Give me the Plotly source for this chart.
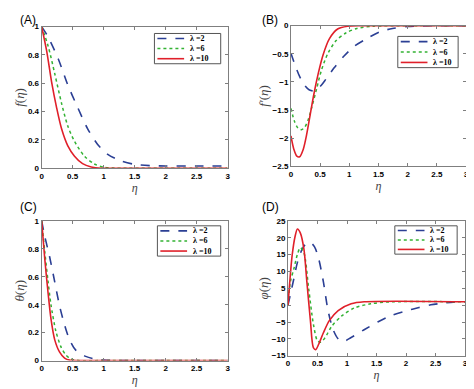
import plotly.graph_objects as go

# ---------------- data ----------------
eta_A2 = [0, 0.1, 0.27, 0.42, 0.58, 0.74, 0.9, 1.06, 1.27, 1.49, 1.75, 2.0, 2.5, 3.0]
f_A2 = [1, 0.93, 0.77, 0.59, 0.43, 0.28, 0.17, 0.10, 0.053, 0.028, 0.018, 0.016, 0.016, 0.016]
eta_A6 = [0, 0.106, 0.21, 0.32, 0.42, 0.53, 0.69, 0.85, 1.0, 1.2, 2.0, 3.0]
f_A6 = [1, 0.86, 0.67, 0.46, 0.30, 0.19, 0.085, 0.03, 0.007, 0.0, 0.0, 0.0]
eta_A10 = [0, 0.08, 0.16, 0.24, 0.32, 0.42, 0.53, 0.66, 0.8, 0.96, 1.2, 2.0, 3.0]
f_A10 = [1, 0.83, 0.61, 0.43, 0.28, 0.16, 0.085, 0.032, 0.009, 0.0, 0.0, 0.0, 0.0]

eta_B2 = [0, 0.08, 0.16, 0.24, 0.31, 0.38, 0.45, 0.52, 0.6, 0.74, 0.91, 1.08, 1.3, 1.52, 1.74, 2.0, 2.5, 3.0]
f_B2 = [-0.49, -0.73, -0.93, -1.07, -1.14, -1.16, -1.13, -1.06, -0.95, -0.75, -0.54, -0.37, -0.23, -0.11, -0.05, -0.015, 0, 0]
eta_B6 = [0, 0.06, 0.12, 0.18, 0.24, 0.3, 0.36, 0.44, 0.52, 0.63, 0.77, 0.94, 1.13, 1.41, 2.0, 3.0]
f_B6 = [-1.47, -1.70, -1.82, -1.85, -1.80, -1.66, -1.44, -1.12, -0.80, -0.50, -0.27, -0.13, -0.05, -0.01, 0, 0]
eta_B10 = [0, 0.05, 0.1, 0.15, 0.21, 0.27, 0.33, 0.4, 0.47, 0.55, 0.66, 0.8, 0.97, 1.2, 2.0, 3.0]
f_B10 = [-1.96, -2.20, -2.32, -2.33, -2.20, -1.93, -1.58, -1.18, -0.84, -0.52, -0.23, -0.06, -0.01, 0, 0, 0]

eta_C2 = [0, 0.05, 0.13, 0.21, 0.29, 0.37, 0.45, 0.55, 0.71, 0.85, 1.0, 1.5, 3.0]
t_C2 = [1.0, 0.89, 0.74, 0.565, 0.39, 0.255, 0.15, 0.075, 0.03, 0.012, 0.003, 0, 0]
eta_C6 = [0, 0.05, 0.1, 0.15, 0.23, 0.31, 0.39, 0.47, 0.6, 1.0, 3.0]
t_C6 = [1, 0.78, 0.58, 0.40, 0.21, 0.10, 0.04, 0.012, 0, 0, 0]
eta_C10 = [0, 0.05, 0.1, 0.15, 0.21, 0.29, 0.37, 0.45, 0.6, 1.0, 3.0]
t_C10 = [1, 0.73, 0.5, 0.30, 0.15, 0.06, 0.018, 0.003, 0, 0, 0]

eta_D2 = [0, 0.04, 0.1, 0.16, 0.24, 0.32, 0.38, 0.45, 0.52, 0.6, 0.68, 0.77, 0.86, 0.95,
          1.07, 1.29, 1.52, 1.76, 2.0, 2.22, 2.42, 2.63, 2.8, 3.0]
p_D2 = [0, 3.1, 7.9, 12.7, 16.6, 18.5, 18.6, 17.3, 13.8, 6.9, -1.7, -7.5, -10.2, -10.7,
        -9.6, -7.3, -5.0, -3.0, -1.7, -0.7, 0.1, 0.6, 0.9, 1.0]
eta_D6 = [0, 0.04, 0.1, 0.16, 0.21, 0.27, 0.35, 0.43, 0.5, 0.56, 0.63, 0.74, 0.91, 1.13, 1.4, 1.7, 3.0]
p_D6 = [0, 6.9, 10.8, 15.1, 17.1, 15.6, 5.0, -5.6, -10.6, -11.0, -9.6, -6.3, -3.2, -0.8, 0.4, 0.95, 1.0]
eta_D10 = [0, 0.03, 0.07, 0.12, 0.16, 0.21, 0.27, 0.32, 0.38, 0.43, 0.47, 0.52, 0.6, 0.7, 0.85, 1.07, 1.29, 3.0]
p_D10 = [0, 6.9, 14.7, 20.4, 22.6, 21.4, 16.6, 6.9, -4.6, -12.6, -13.2, -11.6, -8.2, -4.6, -1.6, 0.4, 1.0, 1.0]

series_names = ["λ =2", "λ =6", "λ =10"]
panel_labels = ["(A)", "(B)", "(C)", "(D)"]
y_titles = ["<i>f</i>(<i>η</i>)", "<i>f′</i>(<i>η</i>)", "<i>θ</i>(<i>η</i>)", "<i>φ</i>(<i>η</i>)"]
x_title = "<i>η</i>"
x_tickvals = [0, 0.5, 1, 1.5, 2, 2.5, 3]
x_ticktext = ["0", "0.5", "1", "1.5", "2", "2.5", "3"]

y_ranges = [[0, 1], [-2.5, 0], [0, 1], [-15, 25]]
y_dticks = [0.2, 0.5, 0.2, 5]

# ---------------- styling ----------------
# The page body has the browser's default 8px margin, so the figure is sized to
# fill the 474x389 window from (8, 8); positions below are window pixels.
OFF = 8
W, H = 474 - OFF, 389 - OFF


def px(x):
    return (x - OFF) / W


def py(y):
    return 1 - (y - OFF) / H


colors = ["#2b3f94", "#33b233", "#e0202a"]
dashes = ["dash", "dot", "solid"]
widths = [1.6, 1.5, 1.6]

# panel rectangles in window pixels: (x0, x1, ytop, ybottom)
panels_px = [(40, 228, 23, 168), (292, 469, 22, 166), (40, 228, 222, 365), (289, 468, 222, 360)]
legend_px = [(154, 221, 30, 61), (400, 461, 33, 65), (157, 221, 227, 258), (397, 460, 227, 256)]
# panel-label (left, top) positions
label_px = [(17, 8), (262, 8), (17, 200), (262, 200)]

data = [
    [(eta_A2, f_A2), (eta_A6, f_A6), (eta_A10, f_A10)],
    [(eta_B2, f_B2), (eta_B6, f_B6), (eta_B10, f_B10)],
    [(eta_C2, t_C2), (eta_C6, t_C6), (eta_C10, t_C10)],
    [(eta_D2, p_D2), (eta_D6, p_D6), (eta_D10, p_D10)],
]

fig = go.Figure()
layout = dict(width=W, height=H, margin=dict(l=0, r=0, t=0, b=0),
              paper_bgcolor="white", plot_bgcolor="white", showlegend=False)

tickfont = dict(family="Liberation Sans", size=8, color="black", weight="bold")
titlefont = dict(family="Liberation Serif", size=13, color="#444444")
xtitlefont = dict(family="Liberation Serif", size=12, color="#444444")

annotations = []
shapes = []
for i in range(4):
    x0, x1, yt, yb = panels_px[i]
    xa = "xaxis" if i == 0 else f"xaxis{i+1}"
    ya = "yaxis" if i == 0 else f"yaxis{i+1}"
    xref = "x" if i == 0 else f"x{i+1}"
    yref = "y" if i == 0 else f"y{i+1}"
    layout[xa] = dict(domain=[px(x0), px(x1)], anchor=yref, range=[0, 3.0001],
                      tickmode="array", tickvals=x_tickvals, ticktext=x_ticktext,
                      showline=True, mirror="ticks", linecolor="#7f7f7f", linewidth=1,
                      ticks="inside", ticklen=3, tickcolor="#7f7f7f", showgrid=False,
                      zeroline=False, tickfont=tickfont, ticklabeloverflow="allow",
                      title=dict(text=x_title, font=xtitlefont, standoff=0))
    layout[ya] = dict(domain=[py(yb), py(yt)], anchor=xref, range=y_ranges[i],
                      dtick=y_dticks[i], showline=True, mirror="ticks", linecolor="#7f7f7f",
                      linewidth=1, ticks="inside", ticklen=3, tickcolor="#7f7f7f",
                      showgrid=False, zeroline=False, tickfont=tickfont,
                      title=dict(text=y_titles[i], font=titlefont, standoff=0))
    for k in range(3):
        ex, ev = data[i][k]
        fig.add_trace(go.Scatter(x=ex, y=ev, mode="lines", name=series_names[k],
                                 xaxis=xref, yaxis=yref,
                                 line=dict(color=colors[k], dash=dashes[k], width=widths[k],
                                           shape="spline", smoothing=0.8)))
    # panel label
    lxp, lyp = label_px[i]
    annotations.append(dict(text=panel_labels[i], x=px(lxp), y=py(lyp),
                            xref="paper", yref="paper", showarrow=False,
                            xanchor="left", yanchor="top", borderpad=0,
                            font=dict(family="Liberation Sans", size=12, color="black")))
    # legend box (drawn as a keyed box)
    lx0, lx1, lyt, lyb = legend_px[i]
    shapes.append(dict(type="rect", xref="paper", yref="paper",
                       x0=px(lx0), x1=px(lx1), y0=py(lyb), y1=py(lyt),
                       line=dict(color="#555555", width=1), fillcolor="white", layer="above"))
    rowh = (lyb - lyt) / 3.0
    for k in range(3):
        yy = lyt + rowh * (k + 0.5)
        shapes.append(dict(type="line", xref="paper", yref="paper",
                           x0=px(lx0 + 3), x1=px(lx0 + 30), y0=py(yy), y1=py(yy),
                           line=dict(color=colors[k], dash=dashes[k], width=widths[k]),
                           layer="above"))
        annotations.append(dict(text=series_names[k], x=px(lx0 + 34), y=py(yy),
                                xref="paper", yref="paper", showarrow=False,
                                xanchor="left", yanchor="middle",
                                font=dict(family="Liberation Serif", size=8, color="black",
                                          weight="bold")))

layout["annotations"] = annotations
layout["shapes"] = shapes
fig.update_layout(**layout)
fig.write_html("out.html")
